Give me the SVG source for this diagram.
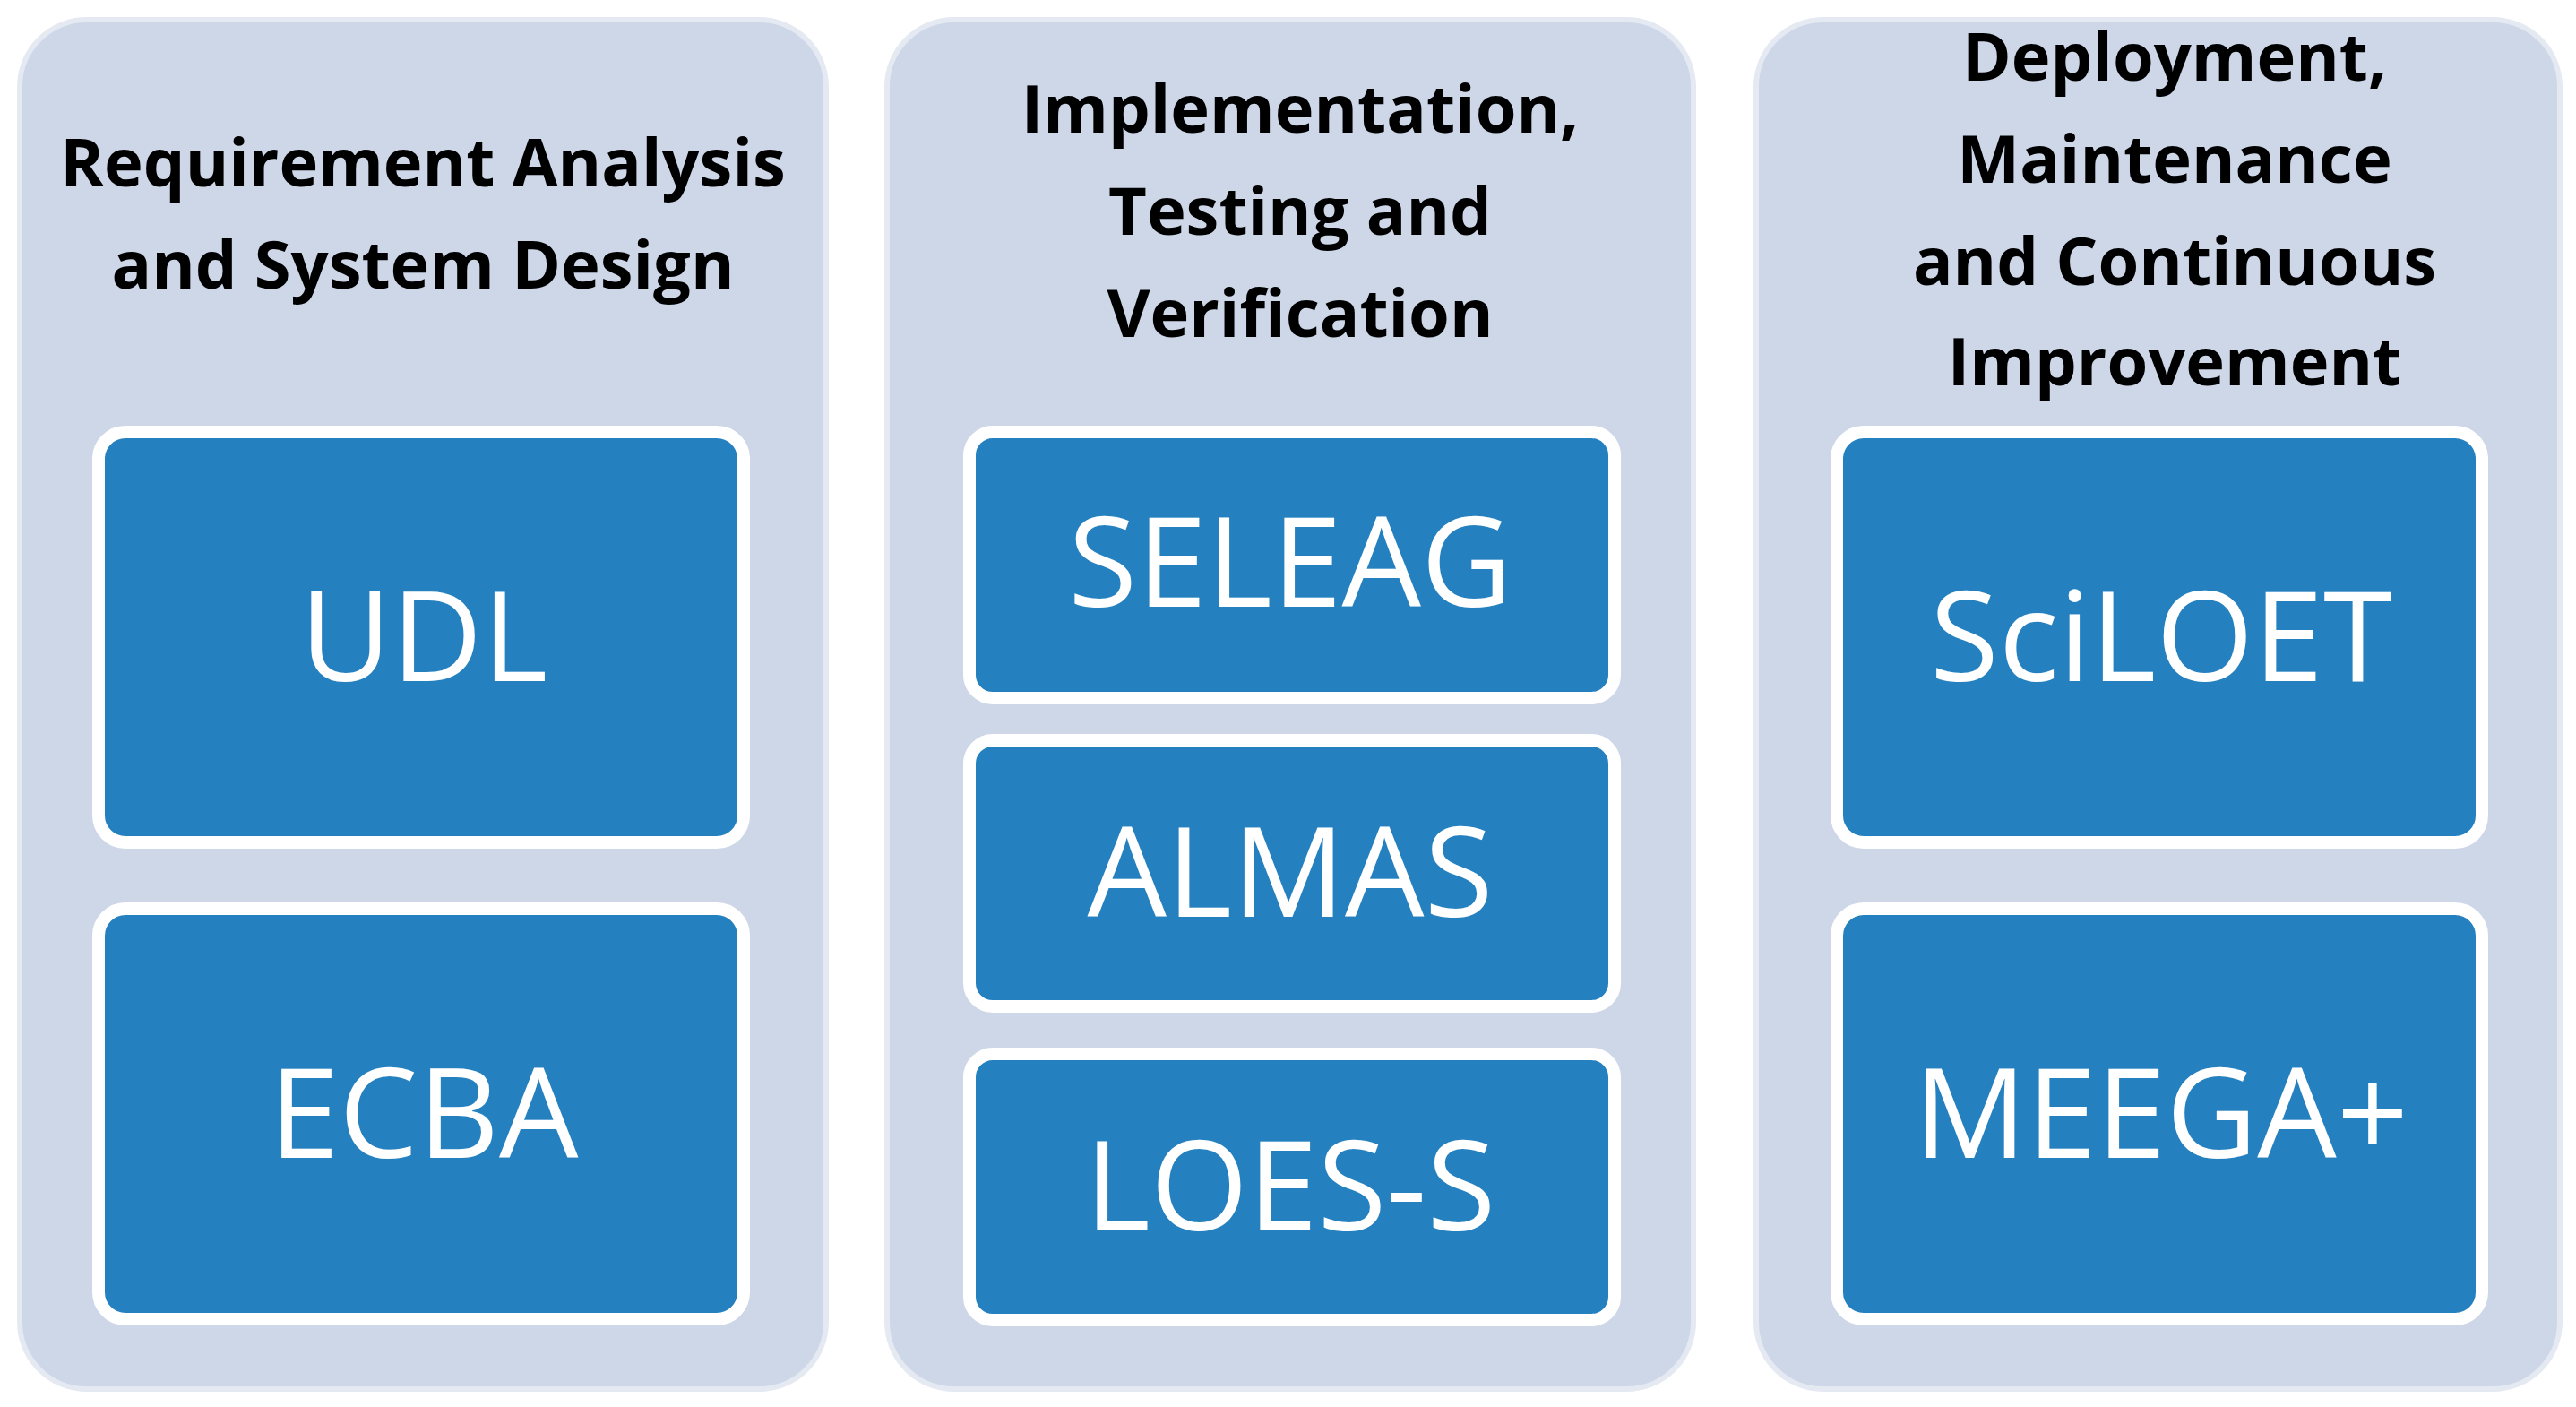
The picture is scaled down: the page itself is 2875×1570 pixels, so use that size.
<svg xmlns="http://www.w3.org/2000/svg" width="2875" height="1570" viewBox="0 0 2875 1570">
<style>
.panel{fill:#CDD7E8;stroke:#E4E9F2;stroke-width:6}
.box{fill:#2480BF;stroke:#FFFFFF;stroke-width:14}
.t{font-family:"Open Sans","Liberation Sans",sans-serif;font-weight:bold;font-size:74px;fill:#000;text-anchor:middle}
.b{font-family:"Open Sans","Liberation Sans",sans-serif;font-size:140px;fill:#FFFFFF;text-anchor:middle}
</style>
<rect width="2875" height="1570" fill="#FFFFFF"/>
<g id="panel1">
<rect class="panel" x="22" y="22" width="900" height="1528" rx="75"/>
<text class="t" x="472" y="208">Requirement Analysis</text>
<text class="t" x="472" y="322">and System Design</text>
</g>
<g id="panel2">
<rect class="panel" x="990" y="22" width="900" height="1528" rx="75"/>
<text class="t" x="1451" y="148">Implementation,</text>
<text class="t" x="1451" y="262">Testing and</text>
<text class="t" x="1451" y="376">Verification</text>
</g>
<g id="panel3">
<rect class="panel" x="1960" y="22" width="897" height="1528" rx="75"/>
<text class="t" x="2427" y="90">Deployment,</text>
<text class="t" x="2427" y="204">Maintenance</text>
<text class="t" x="2427" y="318">and Continuous</text>
<text class="t" x="2427" y="430">Improvement</text>
</g>
<g id="udl"><rect class="box" x="110" y="482" width="720" height="458" rx="30"/><text class="b" x="473" y="760">UDL</text></g>
<g id="ecba"><rect class="box" x="110" y="1014" width="720" height="458" rx="30"/><text class="b" x="473" y="1292">ECBA</text></g>
<g id="seleag"><rect class="box" x="1082" y="482" width="720" height="297" rx="26"/><text class="b" x="1440" y="677">SELEAG</text></g>
<g id="almas"><rect class="box" x="1082" y="826" width="720" height="297" rx="26"/><text class="b" x="1440" y="1023">ALMAS</text></g>
<g id="loess"><rect class="box" x="1082" y="1176" width="720" height="297" rx="26"/><text class="b" x="1440" y="1373">LOES-S</text></g>
<g id="sciloet"><rect class="box" x="2050" y="482" width="720" height="458" rx="30"/><text class="b" x="2412" y="760">SciLOET</text></g>
<g id="meega"><rect class="box" x="2050" y="1014" width="720" height="458" rx="30"/><text class="b" x="2412" y="1292">MEEGA+</text></g>
<g id="connectors"></g>
</svg>
